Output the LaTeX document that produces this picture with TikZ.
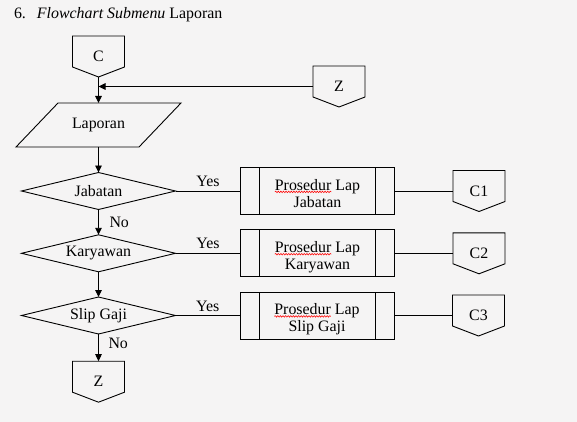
\documentclass[tikz,border=0pt]{standalone}
\usepackage{fontspec}
\setmainfont{Liberation Serif}
\usetikzlibrary{arrows.meta,calc,decorations.pathmorphing}
\definecolor{bg}{RGB}{245,244,244}
\newcommand\offpgdraw[1]{\draw[shp] (#1.north west) -- (#1.north east) -- ([yshift=-31pt]#1.north east) -- (#1.south) -- ([yshift=-31pt]#1.north west) -- cycle;}
\newcommand\diadraw[1]{\draw[shp] (#1.north) -- (#1.east) -- (#1.south) -- (#1.west) -- cycle;}
\newcommand\predefdraw[1]{\draw[shp] ([xshift=19pt]#1.north west) -- ([xshift=19pt]#1.south west);
  \draw[shp] ([xshift=-19pt]#1.north east) -- ([xshift=-19pt]#1.south east);}
\newcommand\prtext[2]{%
  \node[anchor=base] (#1a) at ([yshift=1pt]#1.center) {Prosedur Lap};
  \node[anchor=base] (#1b) at ([yshift=-16pt]#1.center) {#2};
  \draw[wavy] let \n1={width("Prosedur")} in ([yshift=-1.9pt]#1a.base west) -- ++(\n1,0);}
\begin{document}
\begin{tikzpicture}[x=1pt,y=-1pt,
  every node/.style={font=\fontsize{15.9}{17}\selectfont, inner sep=0pt, outer sep=0pt},
  shp/.style={line width=0.9pt},
  ln/.style={line width=0.9pt},
  arr/.style={line width=0.9pt, -{Triangle[length=7pt,width=6.5pt]}},
  wavy/.style={red, line width=0.55pt, decorate, decoration={snake, amplitude=0.75pt, segment length=2.6pt}},
  offpg/.style={minimum width=52pt, minimum height=41pt},
  dia/.style={minimum width=154pt, minimum height=37pt},
  paral/.style={minimum width=165pt, minimum height=44pt},
  prbox/.style={draw, line width=0.9pt, minimum width=154pt, minimum height=47pt}]
\fontsize{15.9}{17}\selectfont
\fill[bg] (0,0) rectangle (577,422);
\useasboundingbox (0,0) rectangle (577,422);

\node[anchor=base west] (title) at (14,18.5) {6.\hspace{11pt}\textit{Flowchart Submenu} Laporan};

% off-page connectors
\node[offpg] (c) at (98.5,56.5) {C};
\node[offpg] (zt) at (339,86.5) {Z};
\node[offpg] (c1) at (479,191) {C1};
\node[offpg] (c2) at (479,253.3) {C2};
\node[offpg] (c3) at (478.5,315.5) {C3};
\node[offpg] (zb) at (98.5,381.7) {Z};
\offpgdraw{c}\offpgdraw{zt}\offpgdraw{c1}\offpgdraw{c2}\offpgdraw{c3}\offpgdraw{zb}

% input
\node[paral] (lap) at (98.5,125) {Laporan};
\draw[shp] ([xshift=42pt]lap.north west) -- (lap.north east) -- ([xshift=-42pt]lap.south east) -- (lap.south west) -- cycle;

% decisions
\node[dia] (jab) at (98.5,191) {Jabatan};
\node[dia] (kar) at (98.5,253.3) {Karyawan};
\node[dia] (slip) at (98.5,315.5) {Slip Gaji};
\diadraw{jab}\diadraw{kar}\diadraw{slip}

% predefined processes
\node[prbox] (p1) at (317.5,191) {};
\node[prbox] (p2) at (317.5,253.3) {};
\node[prbox] (p3) at (317,315.5) {};
\predefdraw{p1}\predefdraw{p2}\predefdraw{p3}
\prtext{p1}{Jabatan}
\prtext{p2}{Karyawan}
\prtext{p3}{Slip Gaji}

% flow
\draw[arr] (c.south) -- (lap.north);
\draw[arr] (zt.west) -- (c.south |- zt.west);
\draw[arr] (lap.south) -- (jab.north);
\draw[arr] (jab.south) -- node[right=11pt]{No} (kar.north);
\draw[arr] (kar.south) -- (slip.north);
\draw[arr] (slip.south) -- node[pos=0.35,right=10pt]{No} (zb.north);

\draw[ln] (jab.east) -- node[above=4.3pt]{Yes} (p1.west);
\draw[ln] (kar.east) -- node[above=4.3pt]{Yes} (p2.west);
\draw[ln] (slip.east) -- node[above=4.3pt]{Yes} (p3.west);
\draw[ln] (p1.east) -- (c1.west);
\draw[ln] (p2.east) -- (c2.west);
\draw[ln] (p3.east) -- (c3.west);
\end{tikzpicture}
\end{document}
